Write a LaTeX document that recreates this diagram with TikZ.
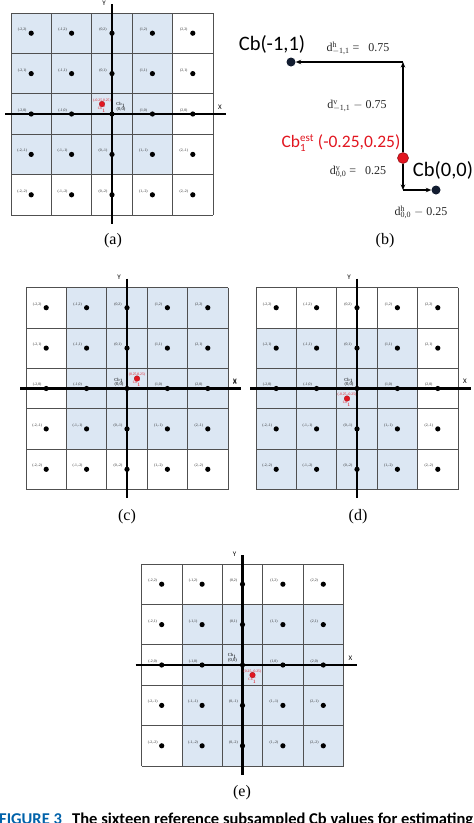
\documentclass[tikz,border=0pt]{standalone}
\usepackage{fontspec}
\setmainfont{Liberation Serif}
\newfontfamily\cbfont{Carlito}
\usetikzlibrary{arrows.meta}

\definecolor{cellblue}{RGB}{220,231,243}
\definecolor{gridgray}{RGB}{80,80,80}
\definecolor{estred}{RGB}{226,22,32}
\definecolor{cbnavy}{RGB}{18,28,48}
\definecolor{figblue}{RGB}{0,98,170}

\tikzset{
  cell label/.style={font=\fontsize{3.8}{3.8}\selectfont, text=black!85, inner sep=0pt},
  cb label/.style={font=\fontsize{4.6}{4.7}\selectfont, inner sep=0pt, align=center},
  est label/.style={font=\fontsize{3.7}{3.9}\selectfont, text=estred, inner sep=0pt},
  est dot/.style={circle, fill=estred, draw=estred!70!black, line width=0.3pt, inner sep=0pt, minimum size=5.6pt},
  axis/.style={line width=2.2pt},
  axis label/.style={font=\cbfont\fontsize{7}{7}\selectfont, inner sep=0pt},
  cb dot/.style={circle, fill=cbnavy, inner sep=0pt, minimum size=9pt},
  big est dot/.style={circle, fill=estred, draw=estred!60!black, line width=0.5pt, inner sep=0pt, minimum size=11pt},
  cb big/.style={font=\cbfont\fontsize{20.5}{21}\selectfont, inner sep=0pt},
  est big/.style={font=\cbfont\fontsize{17.5}{18}\selectfont, text=estred, inner sep=0pt},
  dist label/.style={font=\fontsize{12}{12}\selectfont, text=black!85, inner sep=0pt},
  panel label/.style={font=\fontsize{16}{16}\selectfont, inner sep=0pt},
}

% distance label d^h_{..}
\newcommand{\dlab}[2]{d\rlap{\textsuperscript{#1}}\textsubscript{#2}}

% 5x5 grid of Cb samples: name, left, top, shaded column offset, shaded row offset
\newcommand{\cbgrid}[5]{%
  \begin{scope}[shift={(#2,#3)}, x=40.4pt, y=-40.4pt]
    \fill[cellblue] (#4,#5) rectangle ++(4,4);
    \foreach \k in {0,...,5} {
      \draw[gridgray, line width=0.75pt] (\k,0) -- (\k,5);
      \draw[gridgray, line width=0.75pt] (0,\k) -- (5,\k);
    }
    \foreach \i in {-2,...,2}
      \foreach \j in {-2,...,2} {
        \fill ({\i+2.5},{2.5-(\j)}) circle (2.6pt);
        \pgfmathtruncatemacro\dist{abs(\i)+abs(\j)}
        \ifnum\dist>0
          \node[cell label, xshift=-9pt, yshift=3.5pt] at ({\i+2.5},{2.5-(\j)}) {(\i,\j)};
        \fi
      }
    \coordinate (#1-o) at (2.5,2.5);
    \path (0,2.5) ++(-6pt,0) coordinate (#1-l);
    \path (5,2.5) ++(13pt,0) coordinate (#1-r);
    \path (2.5,0) ++(0,9pt) coordinate (#1-t);
    \path (2.5,5) ++(0,-8.5pt) coordinate (#1-b);
    \draw[axis] (#1-l) -- (#1-r);
    \draw[axis] (#1-t) -- (#1-b);
    \node[axis label, xshift=-6pt, yshift=7pt] (#1-xlab) at (#1-r) {X};
    \node[axis label, xshift=-8pt, yshift=1pt] (#1-ylab) at (#1-t) {Y};
  \end{scope}}

\begin{document}
\begin{tikzpicture}[x=1pt,y=-1pt,>={Stealth[length=5.5pt,width=4.5pt]}]
\path[use as bounding box, fill=white] (0,0) rectangle (474,823);

% (a)
\cbgrid{a}{11}{13}{0}{0}
\node[cb label, xshift=9pt, yshift=7pt] (a-cb) at (a-o) {Cb$_1$\\(0,0)};
\node[est dot, xshift=-10pt, yshift=10pt] (a-est) at (a-o) {};
\node[est label, above=1.8pt] (a-est-xy) at (a-est) {(-0.25,0.25)};
\node[est label, below=1.5pt] (a-est-lab) at (a-est) {Cb$_1^{\mathrm{est}}$};
\node[panel label] (a-cap) at (113,241) {(a)};

% (b)
\node[cb dot] (cbm) at (291,62) {};
\node[big est dot] (est) at (403,158) {};
\node[cb dot] (cbo) at (436,190) {};
\coordinate (top) at (403,62);
\coordinate (bot) at (403,190);
\draw[->, line width=1.2pt] (est) -- (top);
\draw[->, line width=1.2pt] (top) -- (cbm);
\draw[->, line width=1.2pt] (est) -- (bot);
\draw[->, line width=1.2pt] (bot) -- (cbo);
\node[cb big] (cbm-lab) at (272,44) {Cb(-1,1)};
\node[cb big] (cbo-lab) at (443,170) {Cb(0,0)};
\node[est big] (est-lab) at (341,143) {Cb$^{\hbox{\fontsize{11}{11}\selectfont est}}_{\hbox{\fontsize{11}{11}\selectfont 1}}$ (-0.25,0.25)};
\node[dist label] (dh1) at (358,48) {\dlab{h}{$-$1,1} = \ \ 0.75};
\node[dist label] (dv1) at (357,106) {\dlab{v}{$-$1,1} $-$ 0.75};
\node[dist label] (dv0) at (358,172) {\dlab{v}{0,0} = \ \ 0.25};
\node[dist label] (dh0) at (421,212) {\dlab{h}{0,0} $-$ 0.25};
\node[panel label] (b-cap) at (385,241) {(b)};

% (c)
\cbgrid{c}{26}{287.5}{1}{0}
\node[cb label, xshift=-8pt, yshift=6pt] (c-cb) at (c-o) {Cb$_1$\\(0,0)};
\node[est dot, xshift=10pt, yshift=10pt] (c-est) at (c-o) {};
\node[est label, above=1.8pt] (c-est-xy) at (c-est) {(0.25,0.25)};
\node[est label, below=1.5pt] (c-est-lab) at (c-est) {Cb$_1^{\mathrm{est}}$};
\node[panel label] (c-cap) at (127,517) {(c)};

% (d)
\cbgrid{d}{256}{287.5}{0}{1}
\node[axis label, xshift=-15pt, yshift=6.5pt] (d-xlab2) at (d-l) {X};
\node[cb label, xshift=-8pt, yshift=6pt] (d-cb) at (d-o) {Cb$_1$\\(0,0)};
\node[est dot, xshift=-10pt, yshift=-10pt] (d-est) at (d-o) {};
\node[est label, above=1.8pt] (d-est-xy) at (d-est) {(-0.25,-0.25)};
\node[est label, below=1.5pt] (d-est-lab) at (d-est) {Cb$_1^{\mathrm{est}}$};
\node[panel label] (d-cap) at (358,517) {(d)};

% (e)
\cbgrid{e}{141.5}{564}{1}{1}
\node[cb label, xshift=-10pt, yshift=7pt] (e-cb) at (e-o) {Cb$_1$\\(0,0)};
\node[est dot, xshift=10pt, yshift=-10pt] (e-est) at (e-o) {};
\node[est label, above=1.8pt] (e-est-xy) at (e-est) {(0.25,-0.25)};
\node[est label, below=1.5pt] (e-est-lab) at (e-est) {Cb$_1^{\mathrm{est}}$};
\node[panel label] (e-cap) at (242,793) {(e)};

% figure caption, cut by the page edge
\node[anchor=base west, inner sep=0pt, font=\cbfont\bfseries\fontsize{16.5}{16.5}\selectfont, text=figblue] (fig-num) at (-1,824) {FIGURE 3};
\node[anchor=base west, inner sep=0pt, font=\cbfont\bfseries\fontsize{16.5}{16.5}\selectfont] (fig-text) at (72,824) {The sixteen reference subsampled Cb values for estimating};
\end{tikzpicture}
\end{document}
